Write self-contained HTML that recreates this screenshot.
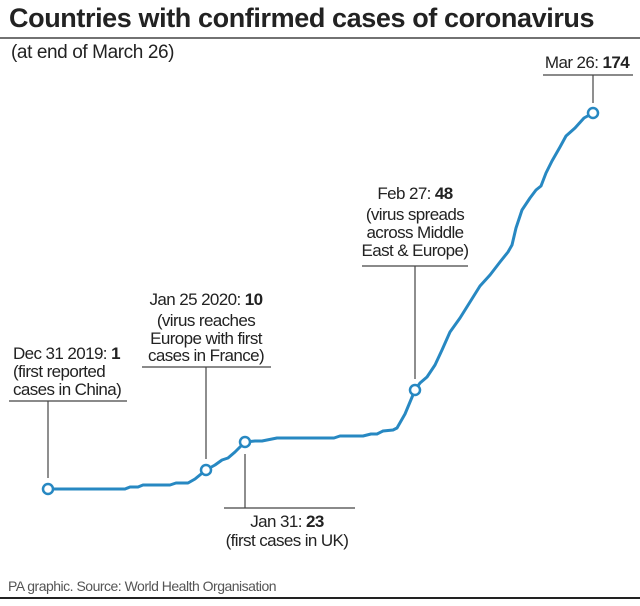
<!DOCTYPE html>
<html><head><style>
body{margin:0;background:#fff}
svg text{font-family:"Liberation Sans",sans-serif;fill:#222}
</style></head><body>
<svg width="640" height="601" viewBox="0 0 640 601" xmlns="http://www.w3.org/2000/svg">
<text x="9" y="27" font-size="27" font-weight="bold" letter-spacing="-0.4">Countries with confirmed cases of coronavirus</text>
<line x1="0" y1="38" x2="640" y2="38" stroke="#444" stroke-width="1.5"/>
<text x="11" y="58" font-size="19" letter-spacing="-0.4">(at end of March 26)</text>
<g stroke="#444" stroke-width="1.2" fill="none">
<line x1="9" y1="401" x2="127" y2="401"/><line x1="48" y1="401" x2="48" y2="478"/>
<line x1="142" y1="367" x2="271" y2="367"/><line x1="206" y1="367" x2="206" y2="459"/>
<line x1="224" y1="508" x2="355" y2="508"/><line x1="245" y1="454" x2="245" y2="508"/>
<line x1="362" y1="266" x2="468" y2="266"/><line x1="415" y1="266" x2="415" y2="379"/>
<line x1="543" y1="75" x2="633" y2="75"/><line x1="593" y1="75" x2="593" y2="103"/>
</g>
<g font-size="17" letter-spacing="-0.6">
<text x="13" y="359">Dec 31 2019: <tspan font-weight="bold">1</tspan></text>
<text x="13" y="377">(first reported</text>
<text x="13" y="395">cases in China)</text>
<g text-anchor="middle">
<text x="206" y="305">Jan 25 2020: <tspan font-weight="bold">10</tspan></text>
<text x="206" y="326">(virus reaches</text>
<text x="206" y="344">Europe with first</text>
<text x="206" y="361">cases in France)</text>
<text x="287" y="527">Jan 31: <tspan font-weight="bold">23</tspan></text>
<text x="287" y="546">(first cases in UK)</text>
<text x="415" y="199">Feb 27: <tspan font-weight="bold">48</tspan></text>
<text x="415" y="220">(virus spreads</text>
<text x="415" y="238">across Middle</text>
<text x="415" y="256">East &amp; Europe)</text>
<text x="587" y="68">Mar 26: <tspan font-weight="bold">174</tspan></text>
</g></g>
<polyline fill="none" stroke="#2788c2" stroke-width="3" stroke-linejoin="round" points="48,489 125,489 130,487 138,487 143,485 170,485 176,483 188,483 195,479 206,470 215,465 222,460 228,458 235,452 245,442 255,441 262,441 277,438 334,438 340,436 363,436 371,434 377,434 383,431 393,430 397,428 405,414 415,390 420,383 427,377 435,365 442,350 450,332 460,318 470,302 480,286 490,275 500,262 508,252 512,245 516,228 522,210 530,198 536,190 541,186 546,173 552,161 560,147 566,136 575,128 584,118 593,113"/>
<g fill="#fff" stroke="#2788c2" stroke-width="2.5">
<circle cx="48" cy="489" r="5"/><circle cx="206" cy="470" r="5"/><circle cx="245" cy="442" r="5"/><circle cx="415" cy="390" r="5"/><circle cx="593" cy="113" r="5"/>
</g>
<text x="8" y="591" font-size="14" style="fill:#555" letter-spacing="-0.5">PA graphic. Source: World Health Organisation</text>
<line x1="0" y1="598" x2="640" y2="598" stroke="#222" stroke-width="2"/>
</svg>
</body></html>
